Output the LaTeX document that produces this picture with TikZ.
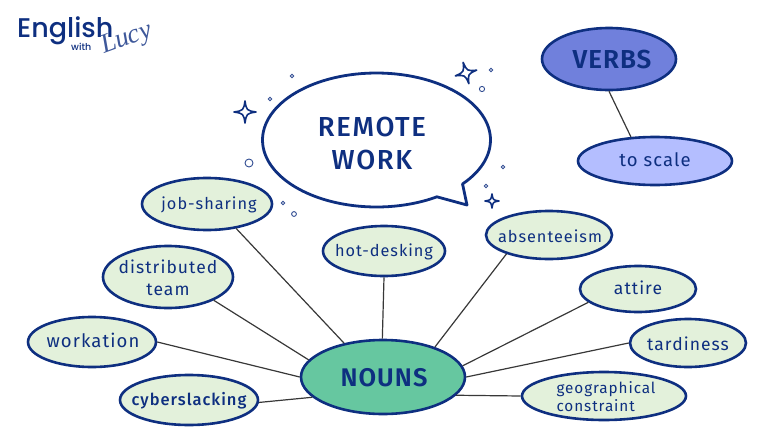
\documentclass[tikz,border=0pt]{standalone}
\usepackage{fontspec}
\setmainfont{Fira Sans}
\newfontfamily\lab[LetterSpace=6]{Fira Sans}
\newfontfamily\labm[LetterSpace=6]{Fira Sans Medium}
\newfontfamily\labs[LetterSpace=4]{Fira Sans SemiBold}
\newfontfamily\logofont{Poppins Medium}
\newfontfamily\scriptf{Liberation Serif Italic}
\usetikzlibrary{shapes.geometric,calc}
\definecolor{navy}{HTML}{0E2F80}
\definecolor{pale}{HTML}{E3F1DB}
\definecolor{sea}{HTML}{66C7A0}
\definecolor{iris}{HTML}{7080DC}
\definecolor{lilac}{HTML}{B4BEFF}
\tikzset{
  x=1pt,y=-1pt,
  bub/.style={ellipse,draw=navy,line width=2.6pt,inner sep=0pt},
  leaf/.style={bub,fill=pale},
  txt/.style={text=navy,align=center,inner sep=0pt,yshift=-1pt,font=\lab\fontsize{17.5}{22}\selectfont},
  txtsm/.style={txt,font=\lab\fontsize{16.3}{21}\selectfont},
  txtlg/.style={txt,font=\lab\fontsize{18.5}{22}\selectfont},
  link/.style={draw=black!78,line width=1.2pt},
  deco/.style={draw=navy!85,line width=0.9pt,fill=white},
  spark/.style={draw=navy,line width=1.6pt,line join=round},
}
\newcommand{\sparkle}[4]{%
  \begin{scope}[shift={(#1,#2)},rotate=#4]
  \pgfmathsetmacro{\sr}{#3}\pgfmathsetmacro{\sc}{#3*0.14}
  \draw[spark] (0,-\sr) .. controls (\sc,-\sc) and (\sc,-\sc) .. (\sr,0)
     .. controls (\sc,\sc) and (\sc,\sc) .. (0,\sr)
     .. controls (-\sc,\sc) and (-\sc,\sc) .. (-\sr,0)
     .. controls (-\sc,-\sc) and (-\sc,-\sc) .. cycle;
  \end{scope}}
\begin{document}
\begin{tikzpicture}
\useasboundingbox (0,0) rectangle (768,431);
\node[leaf,minimum width=130pt,minimum height=52pt,label={[txtsm,xshift=2pt]center:job-sharing}] (job) at (207,204) {};
\node[leaf,minimum width=130pt,minimum height=62pt,label={[txt]center:distributed\\team}] (dist) at (168,277) {};
\node[leaf,minimum width=128pt,minimum height=50pt,label={[txtlg,xshift=1pt,yshift=3pt]center:workation}] (wor) at (92,342) {};
\node[leaf,minimum width=138pt,minimum height=50pt,label={[txt,font=\labm\fontsize{16.5}{22}\selectfont]center:cyberslacking}] (cyb) at (189,400) {};
\node[leaf,minimum width=122pt,minimum height=50pt,label={[txtsm]center:hot-desking}] (hot) at (384,251) {};
\node[leaf,minimum width=126pt,minimum height=48pt,label={[txtsm,xshift=1pt]center:absenteeism}] (abs) at (549,235) {};
\node[leaf,minimum width=116pt,minimum height=46pt,label={[txt,yshift=2pt]center:attire}] (att) at (638,289) {};
\node[leaf,minimum width=116pt,minimum height=48pt,label={[txt]center:tardiness}] (tar) at (688,343) {};
\node[leaf,minimum width=164pt,minimum height=48pt,label={[txt,align=left,xshift=2pt,font=\lab\fontsize{15.3}{18}\selectfont]center:geographical\\constraint}] (geo) at (604,396) {};
\node[bub,fill=sea,minimum width=164pt,minimum height=74pt,label={[txt,xshift=1pt,font=\labs\fontsize{25.5}{30}\selectfont]center:NOUNS}] (nouns) at (383,377) {};
\node[bub,fill=iris,minimum width=134pt,minimum height=62pt,label={[txt,xshift=3pt,font=\labs\fontsize{26}{30}\selectfont]center:VERBS}] (verbs) at (609,59) {};
\node[bub,fill=lilac,minimum width=154pt,minimum height=48pt,label={[txtlg,yshift=2pt]center:to scale}] (sca) at (655,161) {};
\draw[link] (job.-40) -- (nouns.139);
\draw[link] (dist.-27) -- (nouns.167);
\draw[link] (wor.0) -- (nouns.180);
\draw[link] (cyb.-2) -- (nouns.196);
\draw[link] (hot.-90) -- (nouns.91);
\draw[link] (abs.204) -- (nouns.30);
\draw[link] (att.195) -- (nouns.8);
\draw[link] (tar.180) -- (nouns.0);
\draw[link] (geo.180) -- (nouns.-14);
\draw[link] (verbs.-90) -- (sca.135);
% speech bubble
\draw[navy,line width=2.8pt,fill=white,line join=round]
  plot[domain=58:401,samples=120] ({376.5+114*cos(\x)},{140+67*sin(\x)})
  -- (467,205) -- cycle;
\node[text=navy,align=center,font=\labm\fontsize{27.5}{33}\selectfont] (title) at (372,143) {REMOTE\\WORK};
% sparkles
\sparkle{245}{112}{11}{0}
\sparkle{466}{73}{11}{15}
\sparkle{492}{201}{7}{0}
% small circles
\foreach \cx/\cy/\r in {292/76/1.8,270/99/1.8,249/163/4,283/203/1.8,294/214/2.4,491/70/1.8,482/89/2.6,503/167/1.8,486/186/1.8}
  \draw[deco] (\cx,\cy) circle[radius=\r pt];
% logo
\node[text=navy,anchor=base west,inner sep=0pt,font=\logofont\fontsize{27}{30}\selectfont] (eng) at (17,37) {English};
\node[text=navy,anchor=base west,inner sep=0pt,font=\logofont\fontsize{9.5}{11}\selectfont] (with) at (71,50) {with};
\node[text=navy!80,anchor=base west,inner sep=0pt,rotate=20,font=\scriptf\fontsize{27}{32}\selectfont] (lucy) at (104,54) {Lucy};
\end{tikzpicture}
\end{document}
